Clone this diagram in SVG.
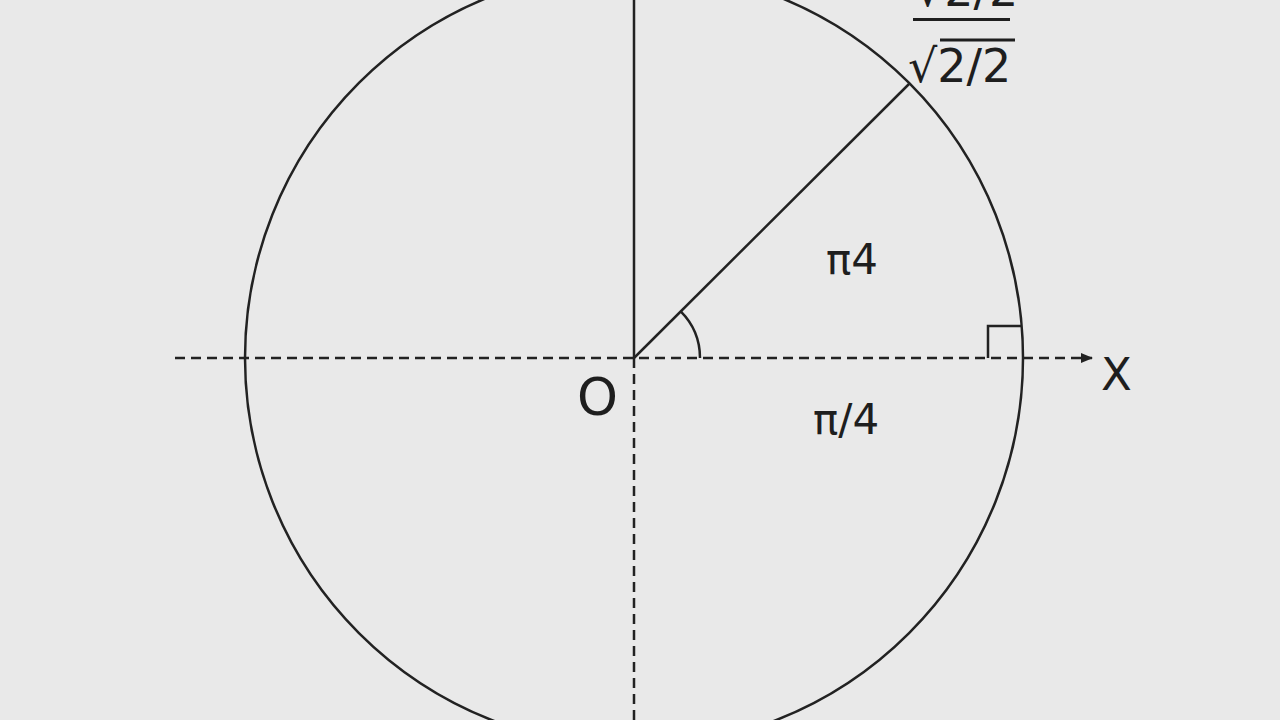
<svg xmlns="http://www.w3.org/2000/svg" width="1280" height="720" viewBox="0 0 1280 720">
<style>
.ln{stroke:#222;stroke-width:2.5;fill:none}
.dash{stroke:#222;stroke-width:2.5;fill:none;stroke-dasharray:10 6}
.t{font-family:"DejaVu Sans","Liberation Sans",sans-serif;fill:#1e1e1e}
</style>
<defs>
<marker id="arr" viewBox="0 0 12 10" refX="11" refY="5" markerWidth="12" markerHeight="10" markerUnits="userSpaceOnUse" orient="auto">
<path d="M0,0 L12,5 L0,10 Z" fill="#222"/>
</marker>
</defs>
<rect width="1280" height="720" fill="#e9e9e9"/>
<g id="circle"><circle cx="634" cy="358" r="389" class="ln"/></g>
<g id="connectors">
<line x1="634" y1="0" x2="634" y2="358" class="ln"/>
<line x1="634" y1="358" x2="634" y2="720" class="dash"/>
<line x1="175" y1="358" x2="1092" y2="358" class="dash" marker-end="url(#arr)"/>
<line x1="634" y1="358" x2="909" y2="84" class="ln"/>
<path d="M700,358 A66,66 0 0 0 680.7,311.3" class="ln"/>
<path d="M988,358 L988,326 L1022,326" class="ln"/>
</g>
<g id="label-top">
<text x="915" y="6" class="t" font-size="46">√2/2</text>
<line x1="913" y1="19.5" x2="1010" y2="19.5" stroke="#1e1e1e" stroke-width="3"/>
<line x1="940" y1="40" x2="1015" y2="40" stroke="#1e1e1e" stroke-width="3"/>
<text x="908" y="82" class="t" font-size="46">√2/2</text>
</g>
<g id="label-pi4"><text x="826" y="274" class="t" font-size="42">π4</text></g>
<g id="label-pi-over-4"><text x="813" y="434" class="t" font-size="42">π/4</text></g>
<g id="label-x"><text x="1101" y="390" class="t" font-size="45">X</text></g>
<g id="label-o"><text x="577" y="415" class="t" font-size="52">O</text></g>
</svg>
